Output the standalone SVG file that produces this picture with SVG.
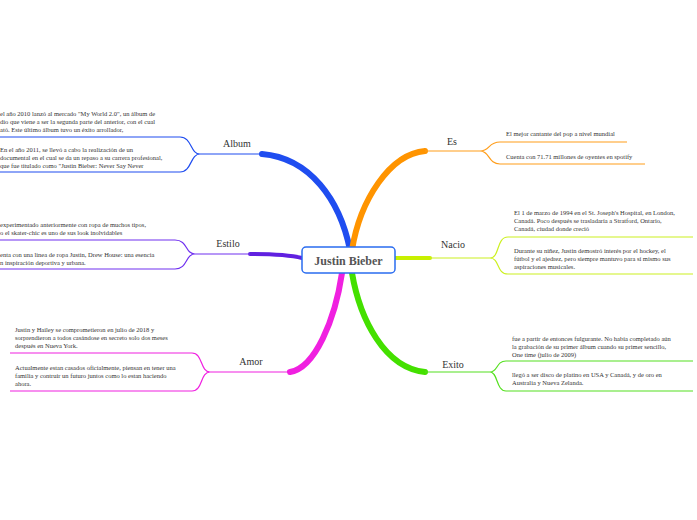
<svg xmlns="http://www.w3.org/2000/svg" width="697" height="520" viewBox="0 0 697 520">
<style>
.t{font-family:"Liberation Serif",serif;font-size:6.5px;fill:#333}
.h{font-family:"Liberation Serif",serif;font-size:10px;fill:#333}
.m{fill:none;stroke-linecap:round}
.s{fill:none;stroke-width:1.2}
</style>
<rect width="697" height="520" fill="#fff"/>
<g id="connectors">
<path class="m" d="M350,250 C340,200 310,158 262,154" stroke="#1f4df0" stroke-width="6"/>
<path class="s" d="M262,154 H200 C190,154 192,137 180,137 H0 M200,154 C190,154 192,172 180,172 H0" stroke="#1f4df0"/>
<path class="m" d="M352,250 C360,200 390,154 425,151" stroke="#ff9400" stroke-width="6"/>
<path class="s" d="M425,151 H480 C490,151 488,142 500,142 H627 M480,151 C490,151 488,164 500,164 H645" stroke="#ff9d1a"/>
<path class="m" d="M395,258 H430" stroke="#c8f000" stroke-width="4"/>
<path class="s" d="M430,258 H490 C500,258 496,237 508,237 H693 M490,258 C500,258 496,274 508,274 H693" stroke="#ccf020"/>
<path class="m" d="M352,273 C360,320 385,368 425,372" stroke="#44e000" stroke-width="6"/>
<path class="s" d="M425,372 H490 C498,372 496,361 506,361 H693 M490,372 C498,372 496,391 506,391 H693" stroke="#55e020"/>
<path class="m" d="M342,273 C335,320 315,368 290,372" stroke="#f020e0" stroke-width="6"/>
<path class="s" d="M290,372 H210 C200,372 203,353 192,353 H10 M210,372 C200,372 203,391 192,391 H10" stroke="#f020e0"/>
<path class="m" d="M302,258 C290,255 270,254 250,254" stroke="#6020e0" stroke-width="4"/>
<path class="s" d="M250,254 H195 C185,254 188,240 175,240 H0 M195,254 C185,254 188,269 175,269 H0" stroke="#7030f0"/>
</g>
<g id="center">
<rect x="302" y="247" width="93" height="26" rx="4" fill="#fff" stroke="#2a6cf0" stroke-width="1.5"/>
<text x="348.5" y="264.5" text-anchor="middle" style="font-family:'Liberation Serif',serif;font-size:12px;font-weight:bold;fill:#555">Justin Bieber</text>
</g>
<g id="album"><text class="h" x="237" y="147" text-anchor="middle">Album</text>
<text class="t" x="0" y="116">el año 2010 lanzó al mercado "My World 2.0", un álbum de</text>
<text class="t" x="0" y="124">dio que viene a ser la segunda parte del anterior, con el cual</text>
<text class="t" x="0" y="132">ató. Este último álbum tuvo un éxito arrollador,</text>
<text class="t" x="0" y="152">En el año 2011, se llevó a cabo la realización de un</text>
<text class="t" x="0" y="160">documental en el cual se da un repaso a su carrera profesional,</text>
<text class="t" x="0" y="168">que fue titulado como "Justin Bieber: Never Say Never</text></g>
<g id="estilo"><text class="h" x="228" y="247" text-anchor="middle">Estilo</text>
<text class="t" x="0" y="227">experimentado anteriormente con ropa de muchos tipos,</text>
<text class="t" x="0" y="235">o el skater-chic es uno de sus look inolvidables</text>
<text class="t" x="0" y="257">enta con una linea de ropa Justin, Drew House: una esencia</text>
<text class="t" x="0" y="265">n inspiración deportiva y urbana.</text></g>
<g id="amor"><text class="h" x="251" y="365" text-anchor="middle">Amor</text>
<text class="t" x="15" y="332">Justin y Hailey se comprometieron en julio de 2018 y</text>
<text class="t" x="15" y="340">sorprendieron a todos casándose en secreto solo dos meses</text>
<text class="t" x="15" y="348">después en Nueva York.</text>
<text class="t" x="15" y="370">Actualmente estan casados oficialmente, piensan en tener una</text>
<text class="t" x="15" y="378">familia y contruir un futuro juntos como lo estan haciendo</text>
<text class="t" x="15" y="386">ahora.</text></g>
<g id="es"><text class="h" x="452" y="145" text-anchor="middle">Es</text>
<text class="t" x="506" y="136">El mejor cantante del pop a nivel mundial</text>
<text class="t" x="506" y="159">Cuenta con 71.71 millones de oyentes en spotify</text></g>
<g id="nacio"><text class="h" x="453" y="248" text-anchor="middle">Nacio</text>
<text class="t" x="514" y="215">El 1 de marzo de 1994 en el St. Joseph's Hospital, en London,</text>
<text class="t" x="514" y="223">Canadá. Poco después se trasladaría a Stratford, Ontario,</text>
<text class="t" x="514" y="231">Canadá, ciudad donde creció</text>
<text class="t" x="514" y="253">Durante su niñez, Justin demostró interés por el hockey, el</text>
<text class="t" x="514" y="261">fútbol y el ajedrez, pero siempre mantuvo para sí mismo sus</text>
<text class="t" x="514" y="269">aspiraciones musicales.</text></g>
<g id="exito"><text class="h" x="453" y="368" text-anchor="middle">Exito</text>
<text class="t" x="512" y="341">fue a partir de entonces fulgurante. No había completado aún</text>
<text class="t" x="512" y="349">la grabación de su primer álbum cuando su primer sencillo,</text>
<text class="t" x="512" y="357">One time (julio de 2009)</text>
<text class="t" x="512" y="377">llegó a ser disco de platino en USA y Canadá, y de oro en</text>
<text class="t" x="512" y="385">Australia y Nueva Zelanda.</text></g>
</svg>
